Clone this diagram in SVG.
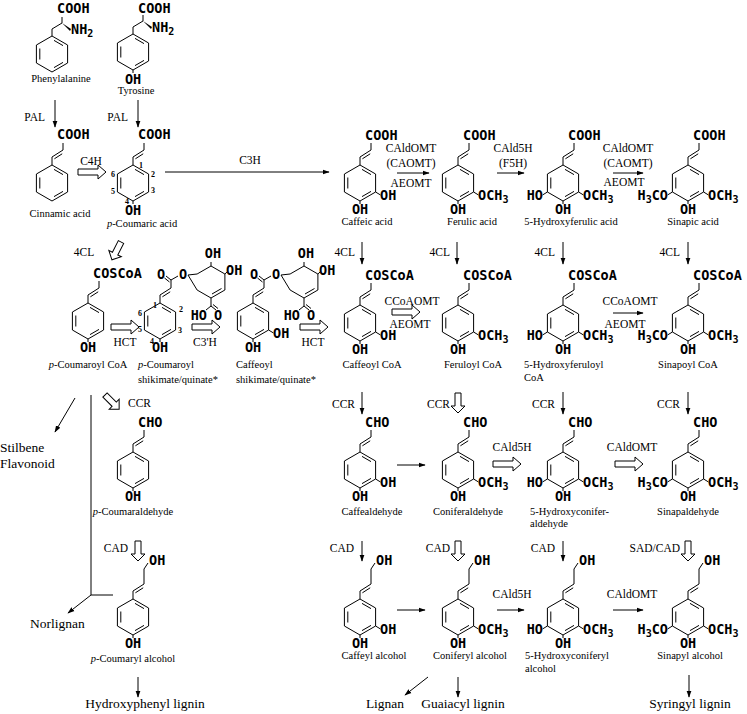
<svg xmlns="http://www.w3.org/2000/svg" xmlns:xlink="http://www.w3.org/1999/xlink" width="747" height="714" viewBox="0 0 747 714">
<style>
.s{fill:none;stroke:#000;stroke-width:1}
.b{font-family:"DejaVu Sans Mono","Liberation Mono",monospace;font-weight:bold;font-size:13.5px;fill:#000}
.sub{font-size:10px}
.n{font-family:"Liberation Serif","Times New Roman",serif;font-size:10.5px;fill:#000}
.e{font-family:"Liberation Serif","Times New Roman",serif;font-size:11.5px;fill:#000}
.big{font-family:"Liberation Serif","Times New Roman",serif;font-size:13.5px;fill:#000}
.num{font-family:"Liberation Serif",serif;font-size:8px;font-weight:bold;text-anchor:middle}
.m{text-anchor:middle}.r{text-anchor:end}
.ha{fill:#fff;stroke:#000;stroke-width:1}
.ar{stroke:#000;stroke-width:1;fill:none;marker-end:url(#mk)}
</style>
<defs>
<marker id="mk" viewBox="0 0 10 10" refX="9" refY="5" markerWidth="7" markerHeight="7" orient="auto" markerUnits="userSpaceOnUse"><path d="M0,1.5 L10,5 L0,8.5 Z" fill="#000"/></marker>
<path id="ring" class="s" d="M0,-18 L15.6,-9 L15.6,9 L0,18 L-15.6,9 L-15.6,-9 Z M-12.2,-5.5 L-12.2,5.5 M2,-13.6 L11,-8.4 M11,8.4 L2,13.6"/>
<path id="chain" class="s" d="M0,-18 L0,-26 L11,-33 L11,-40 M2.4,-24.2 L10.2,-29.2"/>
<path id="alc" class="s" d="M11,-40 L11,-48 L15,-54"/>
<path id="oh3" class="s" d="M15.6,9 L20.5,12"/>
<path id="oh5" class="s" d="M-15.6,9 L-20.5,12"/>
<path id="oh4" class="s" d="M0,18 L0,21"/>
<path id="ha" class="ha" d="M0,-3 L20,-3 L20,-7 L28,0 L20,7 L20,3 L0,3 Z"/>
<path id="hv" class="ha" d="M-3,0 L-3,13 L-7,13 L0,20 L7,13 L3,13 L3,0 Z"/>
<path id="shik" class="s" d="M0,-18 L0,-26 L11,-33 L11,-41 M2.4,-24.2 L10.2,-29.2 M11,-41 L6,-45 M9.5,-39 L4.5,-43 M11,-41 L18,-45 M28,-46 L37.1,-47 L51,-55 L64.9,-47 L64.9,-31 L51,-23 L37.1,-31 Z M61.5,-32.5 L52,-27 M51,-55 L51,-59 M64.9,-47 L67,-49 M51,-23 L51,-15 L46,-11 M51,-15 L56,-11 M53,-16.5 L58,-12.5"/>
</defs>

<g id="phenylalanine" transform="translate(52,54)">
<use href="#ring"/><path class="s" d="M0,-18 L0,-25 L10,-31 L10,-37"/><path d="M10,-31 L19,-25 L18,-23 Z"/>
<text class="b" x="5" y="-41">COOH</text><text class="b" x="19" y="-20">NH<tspan class="sub" dy="3">2</tspan></text>
<text class="n m" x="9" y="28">Phenylalanine</text></g>
<g id="tyrosine" transform="translate(133,52)">
<use href="#ring"/><path class="s" d="M0,-18 L0,-25 L10,-31 L10,-37"/><path d="M10,-31 L19,-25 L18,-23 Z"/><use href="#oh4"/>
<text class="b" x="5" y="-39">COOH</text><text class="b" x="19" y="-20">NH<tspan class="sub" dy="3">2</tspan></text>
<text class="b m" x="0" y="32">OH</text><text class="n m" x="3" y="42">Tyrosine</text></g>

<g id="cinnamic" transform="translate(52,183)"><use href="#ring"/><use href="#chain"/><text class="b" x="5" y="-44">COOH</text><text class="n m" x="8" y="34">Cinnamic acid</text></g>
<g id="pcoumaric" transform="translate(133,183)"><use href="#ring"/><use href="#chain"/><use href="#oh4"/><text class="b" x="5" y="-44">COOH</text><text class="b m" x="0" y="32">OH</text>
<text class="num" x="8" y="-15">1</text><text class="num" x="20" y="-6">2</text><text class="num" x="20" y="10">3</text><text class="num" x="-6" y="21">4</text><text class="num" x="-20" y="11">5</text><text class="num" x="-20" y="-6">6</text>
<text class="n m" x="9" y="44"><tspan font-style="italic">p</tspan>-Coumaric acid</text></g>
<g id="caffeic" transform="translate(360,183)"><use href="#ring"/><use href="#chain"/><use href="#oh4"/><use href="#oh3"/><text class="b" x="5" y="-43">COOH</text><text class="b m" x="0" y="31">OH</text><text class="b" x="20" y="17">OH</text><text class="n m" x="7" y="42">Caffeic acid</text></g>
<g id="ferulic" transform="translate(458,183)"><use href="#ring"/><use href="#chain"/><use href="#oh4"/><use href="#oh3"/><text class="b" x="5" y="-43">COOH</text><text class="b m" x="0" y="31">OH</text><text class="b" x="20" y="17">OCH<tspan class="sub" dy="3">3</tspan></text><text class="n m" x="14" y="42">Ferulic acid</text></g>
<g id="hydroxyferulic" transform="translate(563,183)"><use href="#ring"/><use href="#chain"/><use href="#oh4"/><use href="#oh3"/><use href="#oh5"/><text class="b" x="5" y="-43">COOH</text><text class="b m" x="0" y="31">OH</text><text class="b" x="20" y="17">OCH<tspan class="sub" dy="3">3</tspan></text><text class="b r" x="-20" y="17">HO</text><text class="n m" x="8" y="42">5-Hydroxyferulic acid</text></g>
<g id="sinapic" transform="translate(688,183)"><use href="#ring"/><use href="#chain"/><use href="#oh4"/><use href="#oh3"/><use href="#oh5"/><text class="b" x="5" y="-43">COOH</text><text class="b m" x="0" y="31">OH</text><text class="b" x="20" y="17">OCH<tspan class="sub" dy="3">3</tspan></text><text class="b r" x="-20" y="17">H<tspan class="sub" dy="3">3</tspan><tspan dy="-3">CO</tspan></text><text class="n m" x="5" y="42">Sinapic acid</text></g>

<g id="pcoumaroylcoa" transform="translate(88,321)"><use href="#ring"/><use href="#chain"/><use href="#oh4"/><text class="b" x="5" y="-43">COSCoA</text><text class="b m" x="0" y="31">OH</text><text class="n m" x="0" y="47"><tspan font-style="italic">p</tspan>-Coumaroyl CoA</text></g>
<g id="pcoumaroylshik" transform="translate(160,321)"><use href="#ring"/><use href="#shik"/>
<text class="b m" x="1" y="-42">O</text><text class="b m" x="23" y="-42">O</text><text class="b m" x="53" y="-63">OH</text><text class="b" x="66" y="-46">OH</text><text class="b r" x="47" y="-1">HO</text><text class="b" x="54" y="-1">O</text>
<use href="#oh4"/><text class="b m" x="0" y="31">OH</text>
<text class="num" x="-5" y="-13">1</text><text class="num" x="21" y="-9">2</text><text class="num" x="20" y="12">3</text><text class="num" x="-8" y="23">4</text><text class="num" x="-20" y="11">5</text><text class="num" x="-20" y="-5">6</text>
<text class="n" x="-22" y="47"><tspan font-style="italic">p</tspan>-Coumaroyl</text><text class="n" x="-22" y="62">shikimate/quinate*</text></g>
<g id="caffeoylshik" transform="translate(253,321)"><use href="#ring"/><use href="#shik"/>
<text class="b m" x="1" y="-42">O</text><text class="b m" x="23" y="-42">O</text><text class="b m" x="53" y="-63">OH</text><text class="b" x="66" y="-46">OH</text><text class="b r" x="47" y="-1">HO</text><text class="b" x="54" y="-1">O</text>
<use href="#oh4"/><use href="#oh3"/><text class="b m" x="0" y="31">OH</text><text class="b" x="20" y="17">OH</text>
<text class="n" x="-17" y="47">Caffeoyl</text><text class="n" x="-17" y="62">shikimate/quinate*</text></g>
<g id="caffeoylcoa" transform="translate(360,323)"><use href="#ring"/><use href="#chain"/><use href="#oh4"/><use href="#oh3"/><text class="b" x="5" y="-43">COSCoA</text><text class="b m" x="0" y="31">OH</text><text class="b" x="20" y="17">OH</text><text class="n m" x="12" y="45">Caffeoyl CoA</text></g>
<g id="feruloylcoa" transform="translate(458,323)"><use href="#ring"/><use href="#chain"/><use href="#oh4"/><use href="#oh3"/><text class="b" x="5" y="-43">COSCoA</text><text class="b m" x="0" y="31">OH</text><text class="b" x="20" y="17">OCH<tspan class="sub" dy="3">3</tspan></text><text class="n m" x="15" y="45">Feruloyl CoA</text></g>
<g id="hydroxyferuloylcoa" transform="translate(563,323)"><use href="#ring"/><use href="#chain"/><use href="#oh4"/><use href="#oh3"/><use href="#oh5"/><text class="b" x="5" y="-43">COSCoA</text><text class="b m" x="0" y="31">OH</text><text class="b" x="20" y="17">OCH<tspan class="sub" dy="3">3</tspan></text><text class="b r" x="-20" y="17">HO</text><text class="n" x="-39" y="45">5-Hydroxyferuloyl</text><text class="n" x="-39" y="58">CoA</text></g>
<g id="sinapoylcoa" transform="translate(688,323)"><use href="#ring"/><use href="#chain"/><use href="#oh4"/><use href="#oh3"/><use href="#oh5"/><text class="b" x="5" y="-43">COSCoA</text><text class="b m" x="0" y="31">OH</text><text class="b" x="20" y="17">OCH<tspan class="sub" dy="3">3</tspan></text><text class="b r" x="-20" y="17">H<tspan class="sub" dy="3">3</tspan><tspan dy="-3">CO</tspan></text><text class="n m" x="0" y="45">Sinapoyl CoA</text></g>

<g id="pcoumaraldehyde" transform="translate(133,470)"><use href="#ring"/><use href="#chain"/><use href="#oh4"/><text class="b" x="5" y="-43">CHO</text><text class="b m" x="0" y="31">OH</text><text class="n m" x="0" y="45"><tspan font-style="italic">p</tspan>-Coumaraldehyde</text></g>
<g id="caffealdehyde" transform="translate(360,470)"><use href="#ring"/><use href="#chain"/><use href="#oh4"/><use href="#oh3"/><text class="b" x="5" y="-43">CHO</text><text class="b m" x="0" y="31">OH</text><text class="b" x="20" y="17">OH</text><text class="n m" x="12" y="45">Caffealdehyde</text></g>
<g id="coniferaldehyde" transform="translate(458,470)"><use href="#ring"/><use href="#chain"/><use href="#oh4"/><use href="#oh3"/><text class="b" x="5" y="-43">CHO</text><text class="b m" x="0" y="31">OH</text><text class="b" x="20" y="17">OCH<tspan class="sub" dy="3">3</tspan></text><text class="n m" x="10" y="45">Coniferaldehyde</text></g>
<g id="hydroxyconiferaldehyde" transform="translate(563,470)"><use href="#ring"/><use href="#chain"/><use href="#oh4"/><use href="#oh3"/><use href="#oh5"/><text class="b" x="5" y="-43">CHO</text><text class="b m" x="0" y="31">OH</text><text class="b" x="20" y="17">OCH<tspan class="sub" dy="3">3</tspan></text><text class="b r" x="-20" y="17">HO</text><text class="n" x="-33" y="45">5-Hydroxyconifer-</text><text class="n" x="-33" y="57">aldehyde</text></g>
<g id="sinapaldehyde" transform="translate(688,470)"><use href="#ring"/><use href="#chain"/><use href="#oh4"/><use href="#oh3"/><use href="#oh5"/><text class="b" x="5" y="-43">CHO</text><text class="b m" x="0" y="31">OH</text><text class="b" x="20" y="17">OCH<tspan class="sub" dy="3">3</tspan></text><text class="b r" x="-20" y="17">H<tspan class="sub" dy="3">3</tspan><tspan dy="-3">CO</tspan></text><text class="n m" x="0" y="45">Sinapaldehyde</text></g>

<g id="pcoumarylalcohol" transform="translate(133,617)"><use href="#ring"/><use href="#chain"/><use href="#alc"/><use href="#oh4"/><text class="b" x="16" y="-52">OH</text><text class="b m" x="0" y="31">OH</text><text class="n m" x="0" y="45"><tspan font-style="italic">p</tspan>-Coumaryl alcohol</text></g>
<g id="caffeylalcohol" transform="translate(360,617)"><use href="#ring"/><use href="#chain"/><use href="#alc"/><use href="#oh4"/><use href="#oh3"/><text class="b" x="16" y="-52">OH</text><text class="b m" x="0" y="31">OH</text><text class="b" x="20" y="17">OH</text><text class="n m" x="14" y="42">Caffeyl alcohol</text></g>
<g id="coniferylalcohol" transform="translate(458,617)"><use href="#ring"/><use href="#chain"/><use href="#alc"/><use href="#oh4"/><use href="#oh3"/><text class="b" x="16" y="-52">OH</text><text class="b m" x="0" y="31">OH</text><text class="b" x="20" y="17">OCH<tspan class="sub" dy="3">3</tspan></text><text class="n m" x="12" y="42">Coniferyl alcohol</text></g>
<g id="hydroxyconiferylalcohol" transform="translate(563,617)"><use href="#ring"/><use href="#chain"/><use href="#alc"/><use href="#oh4"/><use href="#oh3"/><use href="#oh5"/><text class="b" x="16" y="-52">OH</text><text class="b m" x="0" y="31">OH</text><text class="b" x="20" y="17">OCH<tspan class="sub" dy="3">3</tspan></text><text class="b r" x="-20" y="17">HO</text><text class="n" x="-38" y="42">5-Hydroxyconiferyl</text><text class="n" x="-38" y="55">alcohol</text></g>
<g id="sinapylalcohol" transform="translate(688,617)"><use href="#ring"/><use href="#chain"/><use href="#alc"/><use href="#oh4"/><use href="#oh3"/><use href="#oh5"/><text class="b" x="16" y="-52">OH</text><text class="b m" x="0" y="31">OH</text><text class="b" x="20" y="17">OCH<tspan class="sub" dy="3">3</tspan></text><text class="b r" x="-20" y="17">H<tspan class="sub" dy="3">3</tspan><tspan dy="-3">CO</tspan></text><text class="n m" x="2" y="42">Sinapyl alcohol</text></g>

<g id="products">
<text class="big" x="0" y="452">Stilbene</text><text class="big" x="0" y="468">Flavonoid</text>
<text class="big" x="30" y="628">Norlignan</text>
<text class="big m" x="145" y="708">Hydroxyphenyl lignin</text>
<text class="big m" x="385" y="708">Lignan</text>
<text class="big m" x="463" y="708">Guaiacyl lignin</text>
<text class="big m" x="690" y="708">Syringyl lignin</text>
</g>

<g id="connectors">
<line class="ar" x1="55" y1="100" x2="55" y2="127"/><line class="ar" x1="138" y1="100" x2="138" y2="127"/>
<use href="#ha" transform="translate(78,172)"/>
<line class="ar" x1="165" y1="172" x2="329" y2="172"/>
<line class="ar" x1="397" y1="173" x2="429" y2="173"/>
<line class="ar" x1="497" y1="173" x2="524" y2="173"/>
<line class="ar" x1="613" y1="173" x2="643" y2="173"/>
<use href="#hv" transform="translate(121,242) rotate(27)"/>
<line class="ar" x1="362" y1="242" x2="362" y2="264"/><line class="ar" x1="457" y1="242" x2="457" y2="264"/><line class="ar" x1="563" y1="242" x2="563" y2="264"/><line class="ar" x1="688" y1="242" x2="688" y2="264"/>
<use href="#ha" transform="translate(111,327)"/><use href="#ha" transform="translate(192,327)"/><use href="#ha" transform="translate(300,327)"/>
<use href="#ha" transform="translate(392,312)"/>
<line class="ar" x1="613" y1="313" x2="643" y2="313"/>
<line class="ar" x1="75" y1="398" x2="55" y2="432"/>
<path class="s" d="M91,395 L91,595 L113,595"/>
<line class="ar" x1="91" y1="595" x2="68" y2="613"/>
<use href="#hv" transform="translate(105,395) rotate(-45)"/>
<line class="ar" x1="362" y1="392" x2="362" y2="414"/><use href="#hv" transform="translate(458,393)"/><line class="ar" x1="563" y1="392" x2="563" y2="414"/><line class="ar" x1="688" y1="392" x2="688" y2="414"/>
<line class="ar" x1="397" y1="465" x2="425" y2="465"/>
<use href="#ha" transform="translate(493,464)"/><use href="#ha" transform="translate(615,464)"/>
<use href="#hv" transform="translate(138,541)"/>
<line class="ar" x1="362" y1="541" x2="362" y2="561"/><use href="#hv" transform="translate(458,541)"/><line class="ar" x1="563" y1="541" x2="563" y2="561"/><use href="#hv" transform="translate(688,541)"/>
<line class="ar" x1="397" y1="610" x2="425" y2="610"/><line class="ar" x1="497" y1="610" x2="524" y2="610"/><line class="ar" x1="613" y1="610" x2="643" y2="610"/>
<line class="ar" x1="138" y1="677" x2="138" y2="697"/>
<line class="ar" x1="428" y1="677" x2="405" y2="695"/>
<line class="ar" x1="458" y1="677" x2="458" y2="697"/>
<line class="ar" x1="689" y1="675" x2="689" y2="697"/>
</g>

<g id="enzyme-labels">
<text class="e r" x="45" y="121">PAL</text><text class="e r" x="128" y="121">PAL</text>
<text class="e m" x="91" y="165">C4H</text><text class="e m" x="250" y="164">C3H</text>
<text class="e m" x="411" y="152">CAldOMT</text><text class="e m" x="411" y="167">(CAOMT)</text><text class="e m" x="411" y="187">AEOMT</text>
<text class="e m" x="513" y="152">CAld5H</text><text class="e m" x="513" y="167">(F5H)</text>
<text class="e m" x="628" y="152">CAldOMT</text><text class="e m" x="628" y="167">(CAOMT)</text><text class="e m" x="624" y="186">AEOMT</text>
<text class="e m" x="84" y="256">4CL</text><text class="e r" x="355" y="256">4CL</text><text class="e r" x="450" y="256">4CL</text><text class="e r" x="555" y="256">4CL</text><text class="e r" x="680" y="256">4CL</text>
<text class="e m" x="125" y="346">HCT</text><text class="e m" x="205" y="346">C3'H</text><text class="e m" x="313" y="346">HCT</text>
<text class="e m" x="412" y="305">CCoAOMT</text><text class="e m" x="410" y="328">AEOMT</text>
<text class="e m" x="630" y="305">CCoAOMT</text><text class="e m" x="625" y="328">AEOMT</text>
<text class="e" x="128" y="407">CCR</text>
<text class="e r" x="355" y="408">CCR</text><text class="e r" x="450" y="408">CCR</text><text class="e r" x="555" y="408">CCR</text><text class="e r" x="680" y="408">CCR</text>
<text class="e m" x="512" y="451">CAld5H</text><text class="e m" x="632" y="451">CAldOMT</text>
<text class="e r" x="128" y="552">CAD</text><text class="e r" x="354" y="552">CAD</text><text class="e r" x="450" y="552">CAD</text><text class="e r" x="555" y="552">CAD</text><text class="e r" x="680" y="552">SAD/CAD</text>
<text class="e m" x="512" y="598">CAld5H</text><text class="e m" x="632" y="598">CAldOMT</text>
</g>
</svg>
